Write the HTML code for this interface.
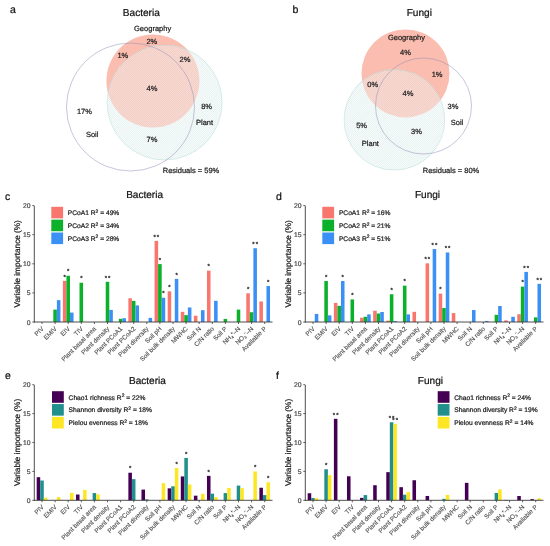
<!DOCTYPE html>
<html lang="en"><head><meta charset="utf-8"><title>Variation partitioning and variable importance</title>
<style>
html,body{margin:0;padding:0;background:#fff;}
body{width:550px;height:546px;overflow:hidden;}
text{stroke-width:0.22px;paint-order:stroke fill;}
text.st{stroke-width:0.1px;}
text.cl{stroke-width:0.12px;}
svg{display:block;text-rendering:geometricPrecision;font-family:"Liberation Sans",Arial,Helvetica,sans-serif;}
</style></head><body>
<svg width="550" height="546" viewBox="0 0 550 546">
<rect width="550" height="546" fill="#ffffff"/>
<g id="venn-a">
<text x="10" y="12.5" font-size="10.5" fill="#111" stroke="#111">a</text>
<text x="141.3" y="15.7" text-anchor="middle" font-size="10.1" fill="#111" stroke="#111">Bacteria</text>
<clipPath id="clip-geo-a"><circle cx="152.9" cy="81.0" r="46.5"/></clipPath>
<circle cx="152.9" cy="81.0" r="46.5" fill="#FBBDB0"/>
<circle cx="164.6" cy="102.5" r="57.5" fill="#FEFFFF"/>
<path d="M120.11 66.07L128.17 58.01M115.49 72.59L134.69 53.39M113.14 76.84L138.94 51.04M111.54 80.34L142.44 49.44M110.36 83.43L145.53 48.26M109.45 86.23L148.33 47.35M108.75 88.84L150.94 46.65M108.21 91.28L153.38 46.11M107.79 93.59L155.69 45.69M107.49 95.79L157.89 45.39M107.28 97.90L160.00 45.18M107.16 99.93L162.03 45.06M107.10 101.88L163.98 45.00M107.11 103.77L165.87 45.01M107.18 105.60L167.70 45.08M107.31 107.38L169.48 45.21M107.48 109.10L171.20 45.38M107.70 110.78L172.88 45.60M107.96 112.42L174.52 45.86M108.27 114.02L176.12 46.17M108.61 115.58L177.68 46.51M108.98 117.10L179.20 46.88M109.40 118.59L180.69 47.30M109.84 120.04L182.14 47.74M110.32 121.47L183.57 48.22M110.82 122.86L184.96 48.72M111.36 124.22L186.32 49.26M111.93 125.56L187.66 49.83M112.52 126.87L188.97 50.42M113.14 128.15L190.25 51.04M113.78 129.40L191.50 51.68M114.45 130.63L192.73 52.35M115.15 131.84L193.94 53.05M115.87 133.02L195.12 53.77M116.61 134.17L196.27 54.51M117.38 135.31L197.41 55.28M118.17 136.42L198.52 56.07M118.98 137.50L199.60 56.88M119.82 138.57L200.67 57.72M120.68 139.61L201.71 58.58M121.56 140.63L202.73 59.46M122.46 141.62L203.72 60.36M123.39 142.60L204.70 61.29M124.33 143.55L205.65 62.23M125.30 144.48L206.58 63.20M126.30 145.39L207.49 64.20M127.31 146.27L208.37 65.21M128.35 147.13L209.23 66.25M129.41 147.97L210.07 67.31M130.49 148.79L210.89 68.39M131.60 149.59L211.69 69.50M132.73 150.36L212.46 70.63M133.88 151.10L213.20 71.78M135.05 151.83L213.93 72.95M136.25 152.53L214.63 74.15M137.48 153.20L215.30 75.38M138.73 153.85L215.95 76.63M140.01 154.48L216.58 77.91M141.31 155.07L217.17 79.21M142.64 155.64L217.74 80.54M144.00 156.18L218.28 81.90M145.39 156.70L218.80 83.29M146.81 157.18L219.28 84.71M148.25 157.63L219.73 86.15M149.74 158.05L220.15 87.64M151.25 158.43L220.53 89.15M152.81 158.78L220.88 90.71M154.40 159.09L221.19 92.30M156.03 159.36L221.46 93.93M157.70 159.58L221.68 95.60M159.42 159.77L221.87 97.32M161.18 159.90L222.00 99.08M163.00 159.98L222.08 100.90M164.88 160.00L222.10 102.78M166.83 159.96L222.06 104.73M168.84 159.84L221.94 106.74M170.93 159.65L221.75 108.83M173.12 159.37L221.47 111.02M175.41 158.98L221.08 113.31M177.82 158.46L220.56 115.72M180.39 157.79L219.89 118.29M183.16 156.92L219.02 121.06M186.19 155.79L217.89 124.09M189.60 154.28L216.38 127.50M193.68 152.11L214.21 131.58M199.44 148.24L210.34 137.34" stroke="#D2E6E3" stroke-width="0.62" fill="none"/>
<g clip-path="url(#clip-geo-a)"><circle cx="164.6" cy="102.5" r="57.5" fill="#FAE1DA"/><path d="M120.11 66.07L128.17 58.01M115.49 72.59L134.69 53.39M113.14 76.84L138.94 51.04M111.54 80.34L142.44 49.44M110.36 83.43L145.53 48.26M109.45 86.23L148.33 47.35M108.75 88.84L150.94 46.65M108.21 91.28L153.38 46.11M107.79 93.59L155.69 45.69M107.49 95.79L157.89 45.39M107.28 97.90L160.00 45.18M107.16 99.93L162.03 45.06M107.10 101.88L163.98 45.00M107.11 103.77L165.87 45.01M107.18 105.60L167.70 45.08M107.31 107.38L169.48 45.21M107.48 109.10L171.20 45.38M107.70 110.78L172.88 45.60M107.96 112.42L174.52 45.86M108.27 114.02L176.12 46.17M108.61 115.58L177.68 46.51M108.98 117.10L179.20 46.88M109.40 118.59L180.69 47.30M109.84 120.04L182.14 47.74M110.32 121.47L183.57 48.22M110.82 122.86L184.96 48.72M111.36 124.22L186.32 49.26M111.93 125.56L187.66 49.83M112.52 126.87L188.97 50.42M113.14 128.15L190.25 51.04M113.78 129.40L191.50 51.68M114.45 130.63L192.73 52.35M115.15 131.84L193.94 53.05M115.87 133.02L195.12 53.77M116.61 134.17L196.27 54.51M117.38 135.31L197.41 55.28M118.17 136.42L198.52 56.07M118.98 137.50L199.60 56.88M119.82 138.57L200.67 57.72M120.68 139.61L201.71 58.58M121.56 140.63L202.73 59.46M122.46 141.62L203.72 60.36M123.39 142.60L204.70 61.29M124.33 143.55L205.65 62.23M125.30 144.48L206.58 63.20M126.30 145.39L207.49 64.20M127.31 146.27L208.37 65.21M128.35 147.13L209.23 66.25M129.41 147.97L210.07 67.31M130.49 148.79L210.89 68.39M131.60 149.59L211.69 69.50M132.73 150.36L212.46 70.63M133.88 151.10L213.20 71.78M135.05 151.83L213.93 72.95M136.25 152.53L214.63 74.15M137.48 153.20L215.30 75.38M138.73 153.85L215.95 76.63M140.01 154.48L216.58 77.91M141.31 155.07L217.17 79.21M142.64 155.64L217.74 80.54M144.00 156.18L218.28 81.90M145.39 156.70L218.80 83.29M146.81 157.18L219.28 84.71M148.25 157.63L219.73 86.15M149.74 158.05L220.15 87.64M151.25 158.43L220.53 89.15M152.81 158.78L220.88 90.71M154.40 159.09L221.19 92.30M156.03 159.36L221.46 93.93M157.70 159.58L221.68 95.60M159.42 159.77L221.87 97.32M161.18 159.90L222.00 99.08M163.00 159.98L222.08 100.90M164.88 160.00L222.10 102.78M166.83 159.96L222.06 104.73M168.84 159.84L221.94 106.74M170.93 159.65L221.75 108.83M173.12 159.37L221.47 111.02M175.41 158.98L221.08 113.31M177.82 158.46L220.56 115.72M180.39 157.79L219.89 118.29M183.16 156.92L219.02 121.06M186.19 155.79L217.89 124.09M189.60 154.28L216.38 127.50M193.68 152.11L214.21 131.58M199.44 148.24L210.34 137.34" stroke="#EBBDB2" stroke-width="0.66" fill="none"/></g>
<circle cx="164.6" cy="102.5" r="57.5" fill="none" stroke="#86C6BE" stroke-opacity="0.36" stroke-width="0.8"/>
<circle cx="130.5" cy="107.0" r="64.0" fill="none" stroke="#908FB6" stroke-opacity="0.85" stroke-width="0.6"/>
<text x="152.6" y="31.1" text-anchor="middle" font-size="7.5" fill="#222" stroke="#222">Geography</text>
<text x="151.8" y="44.0" text-anchor="middle" font-size="7.5" fill="#222" stroke="#222">2%</text>
<text x="122.8" y="57.6" text-anchor="middle" font-size="7.5" fill="#222" stroke="#222">1%</text>
<text x="185.0" y="62.1" text-anchor="middle" font-size="7.5" fill="#222" stroke="#222">2%</text>
<text x="151.9" y="90.7" text-anchor="middle" font-size="7.5" fill="#222" stroke="#222">4%</text>
<text x="84.4" y="113.9" text-anchor="middle" font-size="7.5" fill="#222" stroke="#222">17%</text>
<text x="206.6" y="109.0" text-anchor="middle" font-size="7.5" fill="#222" stroke="#222">8%</text>
<text x="204.6" y="124.7" text-anchor="middle" font-size="7.5" fill="#222" stroke="#222">Plant</text>
<text x="92.2" y="137.3" text-anchor="middle" font-size="7.5" fill="#222" stroke="#222">Soil</text>
<text x="151.9" y="141.6" text-anchor="middle" font-size="7.5" fill="#222" stroke="#222">7%</text>
<text x="191.0" y="173.4" text-anchor="middle" font-size="7.5" fill="#222" stroke="#222">Residuals = 59%</text>
</g>
<g id="venn-b">
<text x="292.6" y="12.5" font-size="10.5" fill="#111" stroke="#111">b</text>
<text x="419.3" y="15.7" text-anchor="middle" font-size="10.1" fill="#111" stroke="#111">Fungi</text>
<clipPath id="clip-geo-b"><circle cx="405.5" cy="73.4" r="44.0"/></clipPath>
<circle cx="405.5" cy="73.4" r="44.0" fill="#FBBDB0"/>
<circle cx="394.4" cy="119.8" r="50.3" fill="#FEFFFF"/>
<path d="M355.27 88.20L362.80 80.67M351.01 94.35L368.95 76.41M348.89 98.37L372.97 74.29M347.47 101.69L376.29 72.87M346.45 104.62L379.22 71.85M345.68 107.28L381.88 71.08M345.11 109.75L384.35 70.51M344.70 112.07L386.67 70.10M344.41 114.26L388.86 69.81M344.22 116.35L390.95 69.62M344.12 118.34L392.94 69.52M344.10 120.26L394.86 69.50M344.15 122.11L396.71 69.55M344.27 123.90L398.50 69.67M344.44 125.63L400.23 69.84M344.66 127.30L401.90 70.06M344.94 128.93L403.53 70.34M345.25 130.51L405.11 70.65M345.61 132.05L406.65 71.01M346.02 133.55L408.15 71.42M346.45 135.01L409.61 71.85M346.93 136.43L411.03 72.33M347.44 137.82L412.42 72.84M347.98 139.18L413.78 73.38M348.56 140.51L415.11 73.96M349.17 141.80L416.40 74.57M349.80 143.06L417.66 75.20M350.47 144.30L418.90 75.87M351.16 145.50L420.10 76.56M351.88 146.68L421.28 77.28M352.63 147.83L422.43 78.03M353.41 148.95L423.55 78.81M354.21 150.05L424.65 79.61M355.04 151.12L425.72 80.44M355.90 152.17L426.77 81.30M356.78 153.19L427.79 82.18M357.68 154.18L428.78 83.08M358.62 155.15L429.75 84.02M359.57 156.09L430.69 84.97M360.55 157.01L431.61 85.95M361.56 157.90L432.50 86.96M362.60 158.77L433.37 88.00M363.66 159.61L434.21 89.06M364.74 160.42L435.02 90.14M365.85 161.21L435.81 91.25M366.99 161.98L436.58 92.39M368.15 162.71L437.31 93.55M369.35 163.42L438.02 94.75M370.57 164.10L438.70 95.97M371.82 164.75L439.35 97.22M373.10 165.37L439.97 98.50M374.41 165.96L440.56 99.81M375.75 166.51L441.11 101.15M377.12 167.04L441.64 102.52M378.53 167.53L442.13 103.93M379.98 167.99L442.59 105.38M381.46 168.41L443.01 106.86M382.98 168.79L443.39 108.38M384.54 169.12L443.72 109.94M386.15 169.42L444.02 111.55M387.80 169.67L444.27 113.20M389.50 169.86L444.46 114.90M391.26 170.00L444.60 116.66M393.08 170.08L444.68 118.48M394.97 170.10L444.70 120.37M396.93 170.04L444.64 122.33M398.97 169.89L444.49 124.37M401.12 169.65L444.25 126.52M403.37 169.29L443.89 128.77M405.77 168.80L443.40 131.17M408.33 168.13L442.73 133.73M411.13 167.24L441.84 136.53M414.25 166.02L440.62 139.65M417.88 164.28L438.88 143.28M422.64 161.42L436.02 148.04" stroke="#D2E6E3" stroke-width="0.62" fill="none"/>
<g clip-path="url(#clip-geo-b)"><circle cx="394.4" cy="119.8" r="50.3" fill="#FAE1DA"/><path d="M355.27 88.20L362.80 80.67M351.01 94.35L368.95 76.41M348.89 98.37L372.97 74.29M347.47 101.69L376.29 72.87M346.45 104.62L379.22 71.85M345.68 107.28L381.88 71.08M345.11 109.75L384.35 70.51M344.70 112.07L386.67 70.10M344.41 114.26L388.86 69.81M344.22 116.35L390.95 69.62M344.12 118.34L392.94 69.52M344.10 120.26L394.86 69.50M344.15 122.11L396.71 69.55M344.27 123.90L398.50 69.67M344.44 125.63L400.23 69.84M344.66 127.30L401.90 70.06M344.94 128.93L403.53 70.34M345.25 130.51L405.11 70.65M345.61 132.05L406.65 71.01M346.02 133.55L408.15 71.42M346.45 135.01L409.61 71.85M346.93 136.43L411.03 72.33M347.44 137.82L412.42 72.84M347.98 139.18L413.78 73.38M348.56 140.51L415.11 73.96M349.17 141.80L416.40 74.57M349.80 143.06L417.66 75.20M350.47 144.30L418.90 75.87M351.16 145.50L420.10 76.56M351.88 146.68L421.28 77.28M352.63 147.83L422.43 78.03M353.41 148.95L423.55 78.81M354.21 150.05L424.65 79.61M355.04 151.12L425.72 80.44M355.90 152.17L426.77 81.30M356.78 153.19L427.79 82.18M357.68 154.18L428.78 83.08M358.62 155.15L429.75 84.02M359.57 156.09L430.69 84.97M360.55 157.01L431.61 85.95M361.56 157.90L432.50 86.96M362.60 158.77L433.37 88.00M363.66 159.61L434.21 89.06M364.74 160.42L435.02 90.14M365.85 161.21L435.81 91.25M366.99 161.98L436.58 92.39M368.15 162.71L437.31 93.55M369.35 163.42L438.02 94.75M370.57 164.10L438.70 95.97M371.82 164.75L439.35 97.22M373.10 165.37L439.97 98.50M374.41 165.96L440.56 99.81M375.75 166.51L441.11 101.15M377.12 167.04L441.64 102.52M378.53 167.53L442.13 103.93M379.98 167.99L442.59 105.38M381.46 168.41L443.01 106.86M382.98 168.79L443.39 108.38M384.54 169.12L443.72 109.94M386.15 169.42L444.02 111.55M387.80 169.67L444.27 113.20M389.50 169.86L444.46 114.90M391.26 170.00L444.60 116.66M393.08 170.08L444.68 118.48M394.97 170.10L444.70 120.37M396.93 170.04L444.64 122.33M398.97 169.89L444.49 124.37M401.12 169.65L444.25 126.52M403.37 169.29L443.89 128.77M405.77 168.80L443.40 131.17M408.33 168.13L442.73 133.73M411.13 167.24L441.84 136.53M414.25 166.02L440.62 139.65M417.88 164.28L438.88 143.28M422.64 161.42L436.02 148.04" stroke="#EBBDB2" stroke-width="0.66" fill="none"/></g>
<circle cx="394.4" cy="119.8" r="50.3" fill="none" stroke="#86C6BE" stroke-opacity="0.36" stroke-width="0.8"/>
<circle cx="423.5" cy="106.0" r="48.0" fill="none" stroke="#908FB6" stroke-opacity="0.85" stroke-width="0.6"/>
<text x="406.5" y="40.2" text-anchor="middle" font-size="7.5" fill="#222" stroke="#222">Geography</text>
<text x="405.4" y="54.8" text-anchor="middle" font-size="7.5" fill="#222" stroke="#222">4%</text>
<text x="372.7" y="86.6" text-anchor="middle" font-size="7.5" fill="#222" stroke="#222">0%</text>
<text x="407.9" y="95.7" text-anchor="middle" font-size="7.5" fill="#222" stroke="#222">4%</text>
<text x="437.1" y="77.1" text-anchor="middle" font-size="7.5" fill="#222" stroke="#222">1%</text>
<text x="453.0" y="109.0" text-anchor="middle" font-size="7.5" fill="#222" stroke="#222">3%</text>
<text x="457.0" y="125.1" text-anchor="middle" font-size="7.5" fill="#222" stroke="#222">Soil</text>
<text x="416.5" y="134.2" text-anchor="middle" font-size="7.5" fill="#222" stroke="#222">3%</text>
<text x="361.6" y="127.6" text-anchor="middle" font-size="7.5" fill="#222" stroke="#222">5%</text>
<text x="370.4" y="145.5" text-anchor="middle" font-size="7.5" fill="#222" stroke="#222">Plant</text>
<text x="451.0" y="173.3" text-anchor="middle" font-size="7.5" fill="#222" stroke="#222">Residuals = 80%</text>
</g>
<g id="panel-c">
<text x="4.9" y="199.9" font-size="10.5" fill="#111" stroke="#111">c</text>
<rect x="53.33" y="309.62" width="3.55" height="12.38" fill="#0BB02B"/>
<rect x="56.88" y="300.13" width="3.55" height="21.87" fill="#3A90F4"/>
<rect x="62.88" y="280.87" width="3.55" height="41.13" fill="#F9766E"/>
<rect x="66.42" y="275.75" width="3.55" height="46.25" fill="#0BB02B"/>
<rect x="69.98" y="312.59" width="3.55" height="9.41" fill="#3A90F4"/>
<rect x="79.52" y="282.73" width="3.55" height="39.27" fill="#0BB02B"/>
<rect x="105.72" y="281.80" width="3.55" height="40.20" fill="#0BB02B"/>
<rect x="109.28" y="309.91" width="3.55" height="12.09" fill="#3A90F4"/>
<rect x="118.82" y="318.81" width="3.55" height="3.19" fill="#0BB02B"/>
<rect x="122.38" y="318.23" width="3.55" height="3.77" fill="#3A90F4"/>
<rect x="128.38" y="298.27" width="3.55" height="23.73" fill="#F9766E"/>
<rect x="131.92" y="300.89" width="3.55" height="21.11" fill="#0BB02B"/>
<rect x="135.47" y="305.43" width="3.55" height="16.57" fill="#3A90F4"/>
<rect x="148.58" y="317.88" width="3.55" height="4.12" fill="#3A90F4"/>
<rect x="154.57" y="240.94" width="3.55" height="81.06" fill="#F9766E"/>
<rect x="158.12" y="264.11" width="3.55" height="57.89" fill="#0BB02B"/>
<rect x="161.67" y="297.75" width="3.55" height="24.25" fill="#3A90F4"/>
<rect x="167.68" y="291.34" width="3.55" height="30.66" fill="#F9766E"/>
<rect x="174.78" y="278.89" width="3.55" height="43.11" fill="#3A90F4"/>
<rect x="180.78" y="311.83" width="3.55" height="10.17" fill="#F9766E"/>
<rect x="184.32" y="315.15" width="3.55" height="6.85" fill="#0BB02B"/>
<rect x="187.88" y="307.47" width="3.55" height="14.53" fill="#3A90F4"/>
<rect x="193.88" y="315.73" width="3.55" height="6.27" fill="#F9766E"/>
<rect x="200.97" y="310.20" width="3.55" height="11.80" fill="#3A90F4"/>
<rect x="206.97" y="270.62" width="3.55" height="51.38" fill="#F9766E"/>
<rect x="214.07" y="300.83" width="3.55" height="21.17" fill="#3A90F4"/>
<rect x="223.62" y="318.93" width="3.55" height="3.07" fill="#0BB02B"/>
<rect x="236.72" y="309.62" width="3.55" height="12.38" fill="#0BB02B"/>
<rect x="246.28" y="293.32" width="3.55" height="28.68" fill="#F9766E"/>
<rect x="249.82" y="312.24" width="3.55" height="9.76" fill="#0BB02B"/>
<rect x="253.38" y="248.22" width="3.55" height="73.78" fill="#3A90F4"/>
<rect x="259.38" y="301.47" width="3.55" height="20.53" fill="#F9766E"/>
<rect x="266.47" y="286.05" width="3.55" height="35.95" fill="#3A90F4"/>
<text x="64.65" y="278.57" text-anchor="middle" font-size="6.0" font-weight="bold" class="st" fill="#111" stroke="#111">*</text>
<text x="68.20" y="273.45" text-anchor="middle" font-size="6.0" font-weight="bold" class="st" fill="#111" stroke="#111">*</text>
<text x="81.30" y="280.43" text-anchor="middle" font-size="6.0" font-weight="bold" class="st" fill="#111" stroke="#111">*</text>
<text x="108.02" y="279.50" text-anchor="middle" font-size="6.0" font-weight="bold" letter-spacing="1.05" class="st" fill="#111" stroke="#111">**</text>
<text x="156.87" y="238.64" text-anchor="middle" font-size="6.0" font-weight="bold" letter-spacing="1.05" class="st" fill="#111" stroke="#111">**</text>
<text x="159.90" y="261.81" text-anchor="middle" font-size="6.0" font-weight="bold" class="st" fill="#111" stroke="#111">*</text>
<text x="163.45" y="295.45" text-anchor="middle" font-size="6.0" font-weight="bold" class="st" fill="#111" stroke="#111">*</text>
<text x="169.45" y="289.04" text-anchor="middle" font-size="6.0" font-weight="bold" class="st" fill="#111" stroke="#111">*</text>
<text x="176.55" y="276.59" text-anchor="middle" font-size="6.0" font-weight="bold" class="st" fill="#111" stroke="#111">*</text>
<text x="208.75" y="268.32" text-anchor="middle" font-size="6.0" font-weight="bold" class="st" fill="#111" stroke="#111">*</text>
<text x="248.05" y="291.02" text-anchor="middle" font-size="6.0" font-weight="bold" class="st" fill="#111" stroke="#111">*</text>
<text x="255.67" y="245.92" text-anchor="middle" font-size="6.0" font-weight="bold" letter-spacing="1.05" class="st" fill="#111" stroke="#111">**</text>
<text x="268.25" y="283.75" text-anchor="middle" font-size="6.0" font-weight="bold" class="st" fill="#111" stroke="#111">*</text>
<path d="M34.30 205.90V322.45" stroke="#3a3a3a" stroke-width="0.9" fill="none"/>
<path d="M33.85 322.00H272.50" stroke="#3a3a3a" stroke-width="0.9" fill="none"/>
<path d="M32.30 322.00H34.30" stroke="#3a3a3a" stroke-width="0.8"/>
<text x="30.50" y="324.55" text-anchor="end" font-size="6.8" fill="#4d4d4d" stroke="#4d4d4d">0</text>
<path d="M32.30 292.90H34.30" stroke="#3a3a3a" stroke-width="0.8"/>
<text x="30.50" y="295.45" text-anchor="end" font-size="6.8" fill="#4d4d4d" stroke="#4d4d4d">5</text>
<path d="M32.30 263.80H34.30" stroke="#3a3a3a" stroke-width="0.8"/>
<text x="30.50" y="266.35" text-anchor="end" font-size="6.8" fill="#4d4d4d" stroke="#4d4d4d">10</text>
<path d="M32.30 234.70H34.30" stroke="#3a3a3a" stroke-width="0.8"/>
<text x="30.50" y="237.25" text-anchor="end" font-size="6.8" fill="#4d4d4d" stroke="#4d4d4d">15</text>
<path d="M32.30 205.60H34.30" stroke="#3a3a3a" stroke-width="0.8"/>
<text x="30.50" y="208.15" text-anchor="end" font-size="6.8" fill="#4d4d4d" stroke="#4d4d4d">20</text>
<path d="M42.00 322.00V324.00" stroke="#3a3a3a" stroke-width="0.8"/>
<text transform="translate(44.20,329.20) rotate(-45)" text-anchor="end" font-size="6.4" class="cl" fill="#4d4d4d" stroke="#4d4d4d">PIV</text>
<path d="M55.10 322.00V324.00" stroke="#3a3a3a" stroke-width="0.8"/>
<text transform="translate(57.30,329.20) rotate(-45)" text-anchor="end" font-size="6.4" class="cl" fill="#4d4d4d" stroke="#4d4d4d">EMIV</text>
<path d="M68.20 322.00V324.00" stroke="#3a3a3a" stroke-width="0.8"/>
<text transform="translate(70.40,329.20) rotate(-45)" text-anchor="end" font-size="6.4" class="cl" fill="#4d4d4d" stroke="#4d4d4d">EIV</text>
<path d="M81.30 322.00V324.00" stroke="#3a3a3a" stroke-width="0.8"/>
<text transform="translate(83.50,329.20) rotate(-45)" text-anchor="end" font-size="6.4" class="cl" fill="#4d4d4d" stroke="#4d4d4d">TIV</text>
<path d="M94.40 322.00V324.00" stroke="#3a3a3a" stroke-width="0.8"/>
<text transform="translate(96.60,329.20) rotate(-45)" text-anchor="end" font-size="6.4" class="cl" fill="#4d4d4d" stroke="#4d4d4d">Plant basal area</text>
<path d="M107.50 322.00V324.00" stroke="#3a3a3a" stroke-width="0.8"/>
<text transform="translate(109.70,329.20) rotate(-45)" text-anchor="end" font-size="6.4" class="cl" fill="#4d4d4d" stroke="#4d4d4d">Plant density</text>
<path d="M120.60 322.00V324.00" stroke="#3a3a3a" stroke-width="0.8"/>
<text transform="translate(122.80,329.20) rotate(-45)" text-anchor="end" font-size="6.4" class="cl" fill="#4d4d4d" stroke="#4d4d4d">Plant PCoA1</text>
<path d="M133.70 322.00V324.00" stroke="#3a3a3a" stroke-width="0.8"/>
<text transform="translate(135.90,329.20) rotate(-45)" text-anchor="end" font-size="6.4" class="cl" fill="#4d4d4d" stroke="#4d4d4d">Plant PCoA2</text>
<path d="M146.80 322.00V324.00" stroke="#3a3a3a" stroke-width="0.8"/>
<text transform="translate(149.00,329.20) rotate(-45)" text-anchor="end" font-size="6.4" class="cl" fill="#4d4d4d" stroke="#4d4d4d">Plant diversity</text>
<path d="M159.90 322.00V324.00" stroke="#3a3a3a" stroke-width="0.8"/>
<text transform="translate(162.10,329.20) rotate(-45)" text-anchor="end" font-size="6.4" class="cl" fill="#4d4d4d" stroke="#4d4d4d">Soil pH</text>
<path d="M173.00 322.00V324.00" stroke="#3a3a3a" stroke-width="0.8"/>
<text transform="translate(175.20,329.20) rotate(-45)" text-anchor="end" font-size="6.4" class="cl" fill="#4d4d4d" stroke="#4d4d4d">Soil bulk density</text>
<path d="M186.10 322.00V324.00" stroke="#3a3a3a" stroke-width="0.8"/>
<text transform="translate(188.30,329.20) rotate(-45)" text-anchor="end" font-size="6.4" class="cl" fill="#4d4d4d" stroke="#4d4d4d">MWHC</text>
<path d="M199.20 322.00V324.00" stroke="#3a3a3a" stroke-width="0.8"/>
<text transform="translate(201.40,329.20) rotate(-45)" text-anchor="end" font-size="6.4" class="cl" fill="#4d4d4d" stroke="#4d4d4d">Soil N</text>
<path d="M212.30 322.00V324.00" stroke="#3a3a3a" stroke-width="0.8"/>
<text transform="translate(214.50,329.20) rotate(-45)" text-anchor="end" font-size="6.4" class="cl" fill="#4d4d4d" stroke="#4d4d4d">C/N ratio</text>
<path d="M225.40 322.00V324.00" stroke="#3a3a3a" stroke-width="0.8"/>
<text transform="translate(227.60,329.20) rotate(-45)" text-anchor="end" font-size="6.4" class="cl" fill="#4d4d4d" stroke="#4d4d4d">Soil P</text>
<path d="M238.50 322.00V324.00" stroke="#3a3a3a" stroke-width="0.8"/>
<text transform="translate(240.70,329.20) rotate(-45)" text-anchor="end" font-size="6.4" class="cl" fill="#4d4d4d" stroke="#4d4d4d">NH<tspan font-size="3.97" dy="1.3">4</tspan><tspan font-size="3.97" dy="-3.6">+</tspan><tspan dy="2.3">–N</tspan></text>
<path d="M251.60 322.00V324.00" stroke="#3a3a3a" stroke-width="0.8"/>
<text transform="translate(253.80,329.20) rotate(-45)" text-anchor="end" font-size="6.4" class="cl" fill="#4d4d4d" stroke="#4d4d4d">NO<tspan font-size="3.97" dy="1.3">3</tspan><tspan font-size="3.97" dy="-3.6">−</tspan><tspan dy="2.3">–N</tspan></text>
<path d="M264.70 322.00V324.00" stroke="#3a3a3a" stroke-width="0.8"/>
<text transform="translate(266.90,329.20) rotate(-45)" text-anchor="end" font-size="6.4" class="cl" fill="#4d4d4d" stroke="#4d4d4d">Available P</text>
<text transform="translate(19.80,263.80) rotate(-90)" text-anchor="middle" font-size="8.2" fill="#1a1a1a" stroke="#1a1a1a">Variable importance (%)</text>
<text x="144.60" y="198.40" text-anchor="middle" font-size="10.05" fill="#111" stroke="#111">Bacteria</text>
<rect x="51.30" y="206.80" width="11.8" height="11.6" fill="#F9766E"/>
<text x="67.80" y="215.20" font-size="6.68" fill="#1a1a1a" stroke="#1a1a1a">PCoA1 R<tspan font-size="4.9" dy="-2.5">2</tspan><tspan dy="2.5"> = 49%</tspan></text>
<rect x="51.30" y="219.65" width="11.8" height="11.6" fill="#0BB02B"/>
<text x="67.80" y="228.05" font-size="6.68" fill="#1a1a1a" stroke="#1a1a1a">PCoA2 R<tspan font-size="4.9" dy="-2.5">2</tspan><tspan dy="2.5"> = 34%</tspan></text>
<rect x="51.30" y="232.50" width="11.8" height="11.6" fill="#3A90F4"/>
<text x="67.80" y="240.90" font-size="6.68" fill="#1a1a1a" stroke="#1a1a1a">PCoA3 R<tspan font-size="4.9" dy="-2.5">2</tspan><tspan dy="2.5"> = 28%</tspan></text>
</g>
<g id="panel-d">
<text x="275.9" y="199.9" font-size="10.5" fill="#111" stroke="#111">d</text>
<rect x="314.77" y="313.93" width="3.55" height="8.07" fill="#3A90F4"/>
<rect x="324.33" y="280.98" width="3.55" height="41.02" fill="#0BB02B"/>
<rect x="327.88" y="315.38" width="3.55" height="6.62" fill="#3A90F4"/>
<rect x="333.88" y="302.93" width="3.55" height="19.07" fill="#F9766E"/>
<rect x="337.43" y="305.84" width="3.55" height="16.16" fill="#0BB02B"/>
<rect x="340.97" y="280.98" width="3.55" height="41.02" fill="#3A90F4"/>
<rect x="350.53" y="299.43" width="3.55" height="22.57" fill="#0BB02B"/>
<rect x="360.07" y="317.71" width="3.55" height="4.29" fill="#F9766E"/>
<rect x="363.62" y="316.78" width="3.55" height="5.22" fill="#0BB02B"/>
<rect x="367.17" y="314.39" width="3.55" height="7.61" fill="#3A90F4"/>
<rect x="373.18" y="310.72" width="3.55" height="11.28" fill="#F9766E"/>
<rect x="376.73" y="313.52" width="3.55" height="8.48" fill="#0BB02B"/>
<rect x="380.27" y="312.01" width="3.55" height="9.99" fill="#3A90F4"/>
<rect x="386.28" y="320.68" width="3.55" height="1.32" fill="#F9766E"/>
<rect x="389.83" y="294.25" width="3.55" height="27.75" fill="#0BB02B"/>
<rect x="393.38" y="321.08" width="3.55" height="0.92" fill="#3A90F4"/>
<rect x="402.93" y="285.64" width="3.55" height="36.36" fill="#0BB02B"/>
<rect x="406.47" y="314.39" width="3.55" height="7.61" fill="#3A90F4"/>
<rect x="412.48" y="311.83" width="3.55" height="10.17" fill="#F9766E"/>
<rect x="425.57" y="263.35" width="3.55" height="58.65" fill="#F9766E"/>
<rect x="432.67" y="249.03" width="3.55" height="72.97" fill="#3A90F4"/>
<rect x="438.68" y="293.61" width="3.55" height="28.39" fill="#F9766E"/>
<rect x="442.23" y="307.99" width="3.55" height="14.01" fill="#0BB02B"/>
<rect x="445.77" y="252.47" width="3.55" height="69.53" fill="#3A90F4"/>
<rect x="451.78" y="313.11" width="3.55" height="8.89" fill="#F9766E"/>
<rect x="471.97" y="310.03" width="3.55" height="11.97" fill="#3A90F4"/>
<rect x="485.07" y="320.97" width="3.55" height="1.03" fill="#3A90F4"/>
<rect x="494.62" y="314.80" width="3.55" height="7.20" fill="#0BB02B"/>
<rect x="498.17" y="306.01" width="3.55" height="15.99" fill="#3A90F4"/>
<rect x="504.18" y="320.39" width="3.55" height="1.61" fill="#F9766E"/>
<rect x="511.27" y="316.78" width="3.55" height="5.22" fill="#3A90F4"/>
<rect x="517.27" y="314.22" width="3.55" height="7.78" fill="#F9766E"/>
<rect x="520.83" y="286.63" width="3.55" height="35.37" fill="#0BB02B"/>
<rect x="524.38" y="271.91" width="3.55" height="50.09" fill="#3A90F4"/>
<rect x="533.93" y="317.36" width="3.55" height="4.64" fill="#0BB02B"/>
<rect x="537.48" y="283.84" width="3.55" height="38.16" fill="#3A90F4"/>
<text x="326.10" y="278.68" text-anchor="middle" font-size="6.0" font-weight="bold" class="st" fill="#111" stroke="#111">*</text>
<text x="342.75" y="278.68" text-anchor="middle" font-size="6.0" font-weight="bold" class="st" fill="#111" stroke="#111">*</text>
<text x="352.30" y="297.13" text-anchor="middle" font-size="6.0" font-weight="bold" class="st" fill="#111" stroke="#111">*</text>
<text x="391.60" y="291.95" text-anchor="middle" font-size="6.0" font-weight="bold" class="st" fill="#111" stroke="#111">*</text>
<text x="404.70" y="283.34" text-anchor="middle" font-size="6.0" font-weight="bold" class="st" fill="#111" stroke="#111">*</text>
<text x="427.87" y="261.05" text-anchor="middle" font-size="6.0" font-weight="bold" letter-spacing="1.05" class="st" fill="#111" stroke="#111">**</text>
<text x="434.97" y="246.73" text-anchor="middle" font-size="6.0" font-weight="bold" letter-spacing="1.05" class="st" fill="#111" stroke="#111">**</text>
<text x="440.45" y="291.31" text-anchor="middle" font-size="6.0" font-weight="bold" class="st" fill="#111" stroke="#111">*</text>
<text x="448.07" y="250.17" text-anchor="middle" font-size="6.0" font-weight="bold" letter-spacing="1.05" class="st" fill="#111" stroke="#111">**</text>
<text x="522.60" y="284.33" text-anchor="middle" font-size="6.0" font-weight="bold" class="st" fill="#111" stroke="#111">*</text>
<text x="526.67" y="269.61" text-anchor="middle" font-size="6.0" font-weight="bold" letter-spacing="1.05" class="st" fill="#111" stroke="#111">**</text>
<text x="539.77" y="281.54" text-anchor="middle" font-size="6.0" font-weight="bold" letter-spacing="1.05" class="st" fill="#111" stroke="#111">**</text>
<path d="M305.30 205.90V322.45" stroke="#3a3a3a" stroke-width="0.9" fill="none"/>
<path d="M304.85 322.00H543.50" stroke="#3a3a3a" stroke-width="0.9" fill="none"/>
<path d="M303.30 322.00H305.30" stroke="#3a3a3a" stroke-width="0.8"/>
<text x="301.50" y="324.55" text-anchor="end" font-size="6.8" fill="#4d4d4d" stroke="#4d4d4d">0</text>
<path d="M303.30 292.90H305.30" stroke="#3a3a3a" stroke-width="0.8"/>
<text x="301.50" y="295.45" text-anchor="end" font-size="6.8" fill="#4d4d4d" stroke="#4d4d4d">5</text>
<path d="M303.30 263.80H305.30" stroke="#3a3a3a" stroke-width="0.8"/>
<text x="301.50" y="266.35" text-anchor="end" font-size="6.8" fill="#4d4d4d" stroke="#4d4d4d">10</text>
<path d="M303.30 234.70H305.30" stroke="#3a3a3a" stroke-width="0.8"/>
<text x="301.50" y="237.25" text-anchor="end" font-size="6.8" fill="#4d4d4d" stroke="#4d4d4d">15</text>
<path d="M303.30 205.60H305.30" stroke="#3a3a3a" stroke-width="0.8"/>
<text x="301.50" y="208.15" text-anchor="end" font-size="6.8" fill="#4d4d4d" stroke="#4d4d4d">20</text>
<path d="M313.00 322.00V324.00" stroke="#3a3a3a" stroke-width="0.8"/>
<text transform="translate(315.20,329.20) rotate(-45)" text-anchor="end" font-size="6.4" class="cl" fill="#4d4d4d" stroke="#4d4d4d">PIV</text>
<path d="M326.10 322.00V324.00" stroke="#3a3a3a" stroke-width="0.8"/>
<text transform="translate(328.30,329.20) rotate(-45)" text-anchor="end" font-size="6.4" class="cl" fill="#4d4d4d" stroke="#4d4d4d">EMIV</text>
<path d="M339.20 322.00V324.00" stroke="#3a3a3a" stroke-width="0.8"/>
<text transform="translate(341.40,329.20) rotate(-45)" text-anchor="end" font-size="6.4" class="cl" fill="#4d4d4d" stroke="#4d4d4d">EIV</text>
<path d="M352.30 322.00V324.00" stroke="#3a3a3a" stroke-width="0.8"/>
<text transform="translate(354.50,329.20) rotate(-45)" text-anchor="end" font-size="6.4" class="cl" fill="#4d4d4d" stroke="#4d4d4d">TIV</text>
<path d="M365.40 322.00V324.00" stroke="#3a3a3a" stroke-width="0.8"/>
<text transform="translate(367.60,329.20) rotate(-45)" text-anchor="end" font-size="6.4" class="cl" fill="#4d4d4d" stroke="#4d4d4d">Plant basal area</text>
<path d="M378.50 322.00V324.00" stroke="#3a3a3a" stroke-width="0.8"/>
<text transform="translate(380.70,329.20) rotate(-45)" text-anchor="end" font-size="6.4" class="cl" fill="#4d4d4d" stroke="#4d4d4d">Plant density</text>
<path d="M391.60 322.00V324.00" stroke="#3a3a3a" stroke-width="0.8"/>
<text transform="translate(393.80,329.20) rotate(-45)" text-anchor="end" font-size="6.4" class="cl" fill="#4d4d4d" stroke="#4d4d4d">Plant PCoA1</text>
<path d="M404.70 322.00V324.00" stroke="#3a3a3a" stroke-width="0.8"/>
<text transform="translate(406.90,329.20) rotate(-45)" text-anchor="end" font-size="6.4" class="cl" fill="#4d4d4d" stroke="#4d4d4d">Plant PCoA2</text>
<path d="M417.80 322.00V324.00" stroke="#3a3a3a" stroke-width="0.8"/>
<text transform="translate(420.00,329.20) rotate(-45)" text-anchor="end" font-size="6.4" class="cl" fill="#4d4d4d" stroke="#4d4d4d">Plant diversity</text>
<path d="M430.90 322.00V324.00" stroke="#3a3a3a" stroke-width="0.8"/>
<text transform="translate(433.10,329.20) rotate(-45)" text-anchor="end" font-size="6.4" class="cl" fill="#4d4d4d" stroke="#4d4d4d">Soil pH</text>
<path d="M444.00 322.00V324.00" stroke="#3a3a3a" stroke-width="0.8"/>
<text transform="translate(446.20,329.20) rotate(-45)" text-anchor="end" font-size="6.4" class="cl" fill="#4d4d4d" stroke="#4d4d4d">Soil bulk density</text>
<path d="M457.10 322.00V324.00" stroke="#3a3a3a" stroke-width="0.8"/>
<text transform="translate(459.30,329.20) rotate(-45)" text-anchor="end" font-size="6.4" class="cl" fill="#4d4d4d" stroke="#4d4d4d">MWHC</text>
<path d="M470.20 322.00V324.00" stroke="#3a3a3a" stroke-width="0.8"/>
<text transform="translate(472.40,329.20) rotate(-45)" text-anchor="end" font-size="6.4" class="cl" fill="#4d4d4d" stroke="#4d4d4d">Soil N</text>
<path d="M483.30 322.00V324.00" stroke="#3a3a3a" stroke-width="0.8"/>
<text transform="translate(485.50,329.20) rotate(-45)" text-anchor="end" font-size="6.4" class="cl" fill="#4d4d4d" stroke="#4d4d4d">C/N ratio</text>
<path d="M496.40 322.00V324.00" stroke="#3a3a3a" stroke-width="0.8"/>
<text transform="translate(498.60,329.20) rotate(-45)" text-anchor="end" font-size="6.4" class="cl" fill="#4d4d4d" stroke="#4d4d4d">Soil P</text>
<path d="M509.50 322.00V324.00" stroke="#3a3a3a" stroke-width="0.8"/>
<text transform="translate(511.70,329.20) rotate(-45)" text-anchor="end" font-size="6.4" class="cl" fill="#4d4d4d" stroke="#4d4d4d">NH<tspan font-size="3.97" dy="1.3">4</tspan><tspan font-size="3.97" dy="-3.6">+</tspan><tspan dy="2.3">–N</tspan></text>
<path d="M522.60 322.00V324.00" stroke="#3a3a3a" stroke-width="0.8"/>
<text transform="translate(524.80,329.20) rotate(-45)" text-anchor="end" font-size="6.4" class="cl" fill="#4d4d4d" stroke="#4d4d4d">NO<tspan font-size="3.97" dy="1.3">3</tspan><tspan font-size="3.97" dy="-3.6">−</tspan><tspan dy="2.3">–N</tspan></text>
<path d="M535.70 322.00V324.00" stroke="#3a3a3a" stroke-width="0.8"/>
<text transform="translate(537.90,329.20) rotate(-45)" text-anchor="end" font-size="6.4" class="cl" fill="#4d4d4d" stroke="#4d4d4d">Available P</text>
<text transform="translate(290.80,263.80) rotate(-90)" text-anchor="middle" font-size="8.2" fill="#1a1a1a" stroke="#1a1a1a">Variable importance (%)</text>
<text x="427.50" y="198.30" text-anchor="middle" font-size="10.05" fill="#111" stroke="#111">Fungi</text>
<rect x="322.30" y="206.80" width="11.8" height="11.6" fill="#F9766E"/>
<text x="338.90" y="215.20" font-size="6.68" fill="#1a1a1a" stroke="#1a1a1a">PCoA1 R<tspan font-size="4.9" dy="-2.5">2</tspan><tspan dy="2.5"> = 16%</tspan></text>
<rect x="322.30" y="219.65" width="11.8" height="11.6" fill="#0BB02B"/>
<text x="338.90" y="228.05" font-size="6.68" fill="#1a1a1a" stroke="#1a1a1a">PCoA2 R<tspan font-size="4.9" dy="-2.5">2</tspan><tspan dy="2.5"> = 21%</tspan></text>
<rect x="322.30" y="232.50" width="11.8" height="11.6" fill="#3A90F4"/>
<text x="338.90" y="240.90" font-size="6.68" fill="#1a1a1a" stroke="#1a1a1a">PCoA3 R<tspan font-size="4.9" dy="-2.5">2</tspan><tspan dy="2.5"> = 51%</tspan></text>
</g>
<g id="panel-e">
<text x="4.9" y="379.0" font-size="10.5" fill="#111" stroke="#111">e</text>
<rect x="36.67" y="477.18" width="3.55" height="23.12" fill="#440154"/>
<rect x="40.23" y="480.53" width="3.55" height="19.77" fill="#21908C"/>
<rect x="43.77" y="497.64" width="3.55" height="2.66" fill="#FDE725"/>
<rect x="56.88" y="497.06" width="3.55" height="3.24" fill="#FDE725"/>
<rect x="69.98" y="492.73" width="3.55" height="7.57" fill="#FDE725"/>
<rect x="75.97" y="494.52" width="3.55" height="5.78" fill="#440154"/>
<rect x="83.08" y="489.95" width="3.55" height="10.35" fill="#FDE725"/>
<rect x="92.62" y="493.07" width="3.55" height="7.23" fill="#21908C"/>
<rect x="96.18" y="494.35" width="3.55" height="5.95" fill="#FDE725"/>
<rect x="128.38" y="472.73" width="3.55" height="27.57" fill="#440154"/>
<rect x="131.92" y="479.15" width="3.55" height="21.15" fill="#21908C"/>
<rect x="141.48" y="489.61" width="3.55" height="10.69" fill="#440154"/>
<rect x="145.03" y="499.43" width="3.55" height="0.87" fill="#21908C"/>
<rect x="161.67" y="483.19" width="3.55" height="17.11" fill="#FDE725"/>
<rect x="167.68" y="488.34" width="3.55" height="11.96" fill="#440154"/>
<rect x="171.22" y="486.31" width="3.55" height="13.99" fill="#21908C"/>
<rect x="174.78" y="467.99" width="3.55" height="32.31" fill="#FDE725"/>
<rect x="180.78" y="476.43" width="3.55" height="23.87" fill="#440154"/>
<rect x="184.32" y="457.93" width="3.55" height="42.37" fill="#21908C"/>
<rect x="187.88" y="484.46" width="3.55" height="15.84" fill="#FDE725"/>
<rect x="193.88" y="495.68" width="3.55" height="4.62" fill="#440154"/>
<rect x="200.97" y="493.83" width="3.55" height="6.47" fill="#FDE725"/>
<rect x="206.97" y="475.85" width="3.55" height="24.45" fill="#440154"/>
<rect x="210.52" y="493.65" width="3.55" height="6.65" fill="#21908C"/>
<rect x="214.07" y="497.12" width="3.55" height="3.18" fill="#FDE725"/>
<rect x="223.62" y="493.07" width="3.55" height="7.23" fill="#21908C"/>
<rect x="227.18" y="487.93" width="3.55" height="12.37" fill="#FDE725"/>
<rect x="236.72" y="485.56" width="3.55" height="14.74" fill="#21908C"/>
<rect x="240.28" y="488.16" width="3.55" height="12.14" fill="#FDE725"/>
<rect x="253.38" y="471.46" width="3.55" height="28.84" fill="#FDE725"/>
<rect x="259.38" y="487.76" width="3.55" height="12.54" fill="#440154"/>
<rect x="262.93" y="495.10" width="3.55" height="5.20" fill="#21908C"/>
<rect x="266.47" y="482.27" width="3.55" height="18.03" fill="#FDE725"/>
<text x="130.15" y="470.43" text-anchor="middle" font-size="6.0" font-weight="bold" class="st" fill="#111" stroke="#111">*</text>
<text x="176.55" y="465.69" text-anchor="middle" font-size="6.0" font-weight="bold" class="st" fill="#111" stroke="#111">*</text>
<text x="186.10" y="455.63" text-anchor="middle" font-size="6.0" font-weight="bold" class="st" fill="#111" stroke="#111">*</text>
<text x="208.75" y="473.55" text-anchor="middle" font-size="6.0" font-weight="bold" class="st" fill="#111" stroke="#111">*</text>
<text x="255.15" y="469.16" text-anchor="middle" font-size="6.0" font-weight="bold" class="st" fill="#111" stroke="#111">*</text>
<text x="268.25" y="479.97" text-anchor="middle" font-size="6.0" font-weight="bold" class="st" fill="#111" stroke="#111">*</text>
<path d="M34.30 385.00V500.75" stroke="#3a3a3a" stroke-width="0.9" fill="none"/>
<path d="M33.85 500.30H272.50" stroke="#3a3a3a" stroke-width="0.9" fill="none"/>
<path d="M32.30 500.30H34.30" stroke="#3a3a3a" stroke-width="0.8"/>
<text x="30.50" y="502.85" text-anchor="end" font-size="6.8" fill="#4d4d4d" stroke="#4d4d4d">0</text>
<path d="M32.30 471.40H34.30" stroke="#3a3a3a" stroke-width="0.8"/>
<text x="30.50" y="473.95" text-anchor="end" font-size="6.8" fill="#4d4d4d" stroke="#4d4d4d">5</text>
<path d="M32.30 442.50H34.30" stroke="#3a3a3a" stroke-width="0.8"/>
<text x="30.50" y="445.05" text-anchor="end" font-size="6.8" fill="#4d4d4d" stroke="#4d4d4d">10</text>
<path d="M32.30 413.60H34.30" stroke="#3a3a3a" stroke-width="0.8"/>
<text x="30.50" y="416.15" text-anchor="end" font-size="6.8" fill="#4d4d4d" stroke="#4d4d4d">15</text>
<path d="M32.30 384.70H34.30" stroke="#3a3a3a" stroke-width="0.8"/>
<text x="30.50" y="387.25" text-anchor="end" font-size="6.8" fill="#4d4d4d" stroke="#4d4d4d">20</text>
<path d="M42.00 500.30V502.30" stroke="#3a3a3a" stroke-width="0.8"/>
<text transform="translate(44.20,507.50) rotate(-45)" text-anchor="end" font-size="6.4" class="cl" fill="#4d4d4d" stroke="#4d4d4d">PIV</text>
<path d="M55.10 500.30V502.30" stroke="#3a3a3a" stroke-width="0.8"/>
<text transform="translate(57.30,507.50) rotate(-45)" text-anchor="end" font-size="6.4" class="cl" fill="#4d4d4d" stroke="#4d4d4d">EMIV</text>
<path d="M68.20 500.30V502.30" stroke="#3a3a3a" stroke-width="0.8"/>
<text transform="translate(70.40,507.50) rotate(-45)" text-anchor="end" font-size="6.4" class="cl" fill="#4d4d4d" stroke="#4d4d4d">EIV</text>
<path d="M81.30 500.30V502.30" stroke="#3a3a3a" stroke-width="0.8"/>
<text transform="translate(83.50,507.50) rotate(-45)" text-anchor="end" font-size="6.4" class="cl" fill="#4d4d4d" stroke="#4d4d4d">TIV</text>
<path d="M94.40 500.30V502.30" stroke="#3a3a3a" stroke-width="0.8"/>
<text transform="translate(96.60,507.50) rotate(-45)" text-anchor="end" font-size="6.4" class="cl" fill="#4d4d4d" stroke="#4d4d4d">Plant basal area</text>
<path d="M107.50 500.30V502.30" stroke="#3a3a3a" stroke-width="0.8"/>
<text transform="translate(109.70,507.50) rotate(-45)" text-anchor="end" font-size="6.4" class="cl" fill="#4d4d4d" stroke="#4d4d4d">Plant density</text>
<path d="M120.60 500.30V502.30" stroke="#3a3a3a" stroke-width="0.8"/>
<text transform="translate(122.80,507.50) rotate(-45)" text-anchor="end" font-size="6.4" class="cl" fill="#4d4d4d" stroke="#4d4d4d">Plant PCoA1</text>
<path d="M133.70 500.30V502.30" stroke="#3a3a3a" stroke-width="0.8"/>
<text transform="translate(135.90,507.50) rotate(-45)" text-anchor="end" font-size="6.4" class="cl" fill="#4d4d4d" stroke="#4d4d4d">Plant PCoA2</text>
<path d="M146.80 500.30V502.30" stroke="#3a3a3a" stroke-width="0.8"/>
<text transform="translate(149.00,507.50) rotate(-45)" text-anchor="end" font-size="6.4" class="cl" fill="#4d4d4d" stroke="#4d4d4d">Plant diversity</text>
<path d="M159.90 500.30V502.30" stroke="#3a3a3a" stroke-width="0.8"/>
<text transform="translate(162.10,507.50) rotate(-45)" text-anchor="end" font-size="6.4" class="cl" fill="#4d4d4d" stroke="#4d4d4d">Soil pH</text>
<path d="M173.00 500.30V502.30" stroke="#3a3a3a" stroke-width="0.8"/>
<text transform="translate(175.20,507.50) rotate(-45)" text-anchor="end" font-size="6.4" class="cl" fill="#4d4d4d" stroke="#4d4d4d">Soil bulk density</text>
<path d="M186.10 500.30V502.30" stroke="#3a3a3a" stroke-width="0.8"/>
<text transform="translate(188.30,507.50) rotate(-45)" text-anchor="end" font-size="6.4" class="cl" fill="#4d4d4d" stroke="#4d4d4d">MWHC</text>
<path d="M199.20 500.30V502.30" stroke="#3a3a3a" stroke-width="0.8"/>
<text transform="translate(201.40,507.50) rotate(-45)" text-anchor="end" font-size="6.4" class="cl" fill="#4d4d4d" stroke="#4d4d4d">Soil N</text>
<path d="M212.30 500.30V502.30" stroke="#3a3a3a" stroke-width="0.8"/>
<text transform="translate(214.50,507.50) rotate(-45)" text-anchor="end" font-size="6.4" class="cl" fill="#4d4d4d" stroke="#4d4d4d">C/N ratio</text>
<path d="M225.40 500.30V502.30" stroke="#3a3a3a" stroke-width="0.8"/>
<text transform="translate(227.60,507.50) rotate(-45)" text-anchor="end" font-size="6.4" class="cl" fill="#4d4d4d" stroke="#4d4d4d">Soil P</text>
<path d="M238.50 500.30V502.30" stroke="#3a3a3a" stroke-width="0.8"/>
<text transform="translate(240.70,507.50) rotate(-45)" text-anchor="end" font-size="6.4" class="cl" fill="#4d4d4d" stroke="#4d4d4d">NH<tspan font-size="3.97" dy="1.3">4</tspan><tspan font-size="3.97" dy="-3.6">+</tspan><tspan dy="2.3">–N</tspan></text>
<path d="M251.60 500.30V502.30" stroke="#3a3a3a" stroke-width="0.8"/>
<text transform="translate(253.80,507.50) rotate(-45)" text-anchor="end" font-size="6.4" class="cl" fill="#4d4d4d" stroke="#4d4d4d">NO<tspan font-size="3.97" dy="1.3">3</tspan><tspan font-size="3.97" dy="-3.6">−</tspan><tspan dy="2.3">–N</tspan></text>
<path d="M264.70 500.30V502.30" stroke="#3a3a3a" stroke-width="0.8"/>
<text transform="translate(266.90,507.50) rotate(-45)" text-anchor="end" font-size="6.4" class="cl" fill="#4d4d4d" stroke="#4d4d4d">Available P</text>
<text transform="translate(19.80,442.50) rotate(-90)" text-anchor="middle" font-size="8.2" fill="#1a1a1a" stroke="#1a1a1a">Variable importance (%)</text>
<text x="147.40" y="383.60" text-anchor="middle" font-size="10.05" fill="#111" stroke="#111">Bacteria</text>
<rect x="52.00" y="391.20" width="11.8" height="11.6" fill="#440154"/>
<text x="68.60" y="399.60" font-size="6.68" fill="#1a1a1a" stroke="#1a1a1a">Chao1 richness R<tspan font-size="4.9" dy="-2.5">2</tspan><tspan dy="2.5"> = 22%</tspan></text>
<rect x="52.00" y="404.05" width="11.8" height="11.6" fill="#21908C"/>
<text x="68.60" y="412.45" font-size="6.68" fill="#1a1a1a" stroke="#1a1a1a">Shannon diversity R<tspan font-size="4.9" dy="-2.5">2</tspan><tspan dy="2.5"> = 18%</tspan></text>
<rect x="52.00" y="416.90" width="11.8" height="11.6" fill="#FDE725"/>
<text x="68.60" y="425.30" font-size="6.68" fill="#1a1a1a" stroke="#1a1a1a">Pielou evenness R<tspan font-size="4.9" dy="-2.5">2</tspan><tspan dy="2.5"> = 18%</tspan></text>
</g>
<g id="panel-f">
<text x="275.9" y="379.0" font-size="10.5" fill="#111" stroke="#111">f</text>
<rect x="307.68" y="493.25" width="3.55" height="7.05" fill="#440154"/>
<rect x="311.23" y="498.05" width="3.55" height="2.25" fill="#21908C"/>
<rect x="314.77" y="498.22" width="3.55" height="2.08" fill="#FDE725"/>
<rect x="324.33" y="469.26" width="3.55" height="31.04" fill="#21908C"/>
<rect x="327.88" y="475.16" width="3.55" height="25.14" fill="#FDE725"/>
<rect x="333.88" y="418.80" width="3.55" height="81.50" fill="#440154"/>
<rect x="346.98" y="476.26" width="3.55" height="24.04" fill="#440154"/>
<rect x="360.07" y="497.87" width="3.55" height="2.43" fill="#440154"/>
<rect x="363.62" y="495.10" width="3.55" height="5.20" fill="#21908C"/>
<rect x="373.18" y="485.21" width="3.55" height="15.09" fill="#440154"/>
<rect x="386.28" y="472.15" width="3.55" height="28.15" fill="#440154"/>
<rect x="389.83" y="422.27" width="3.55" height="78.03" fill="#21908C"/>
<rect x="393.38" y="423.83" width="3.55" height="76.47" fill="#FDE725"/>
<rect x="399.38" y="487.18" width="3.55" height="13.12" fill="#440154"/>
<rect x="402.93" y="494.69" width="3.55" height="5.61" fill="#21908C"/>
<rect x="406.47" y="492.15" width="3.55" height="8.15" fill="#FDE725"/>
<rect x="412.48" y="480.24" width="3.55" height="20.06" fill="#440154"/>
<rect x="425.57" y="495.97" width="3.55" height="4.33" fill="#440154"/>
<rect x="442.23" y="498.86" width="3.55" height="1.45" fill="#21908C"/>
<rect x="445.77" y="494.87" width="3.55" height="5.43" fill="#FDE725"/>
<rect x="464.88" y="482.84" width="3.55" height="17.46" fill="#440154"/>
<rect x="494.62" y="492.90" width="3.55" height="7.40" fill="#21908C"/>
<rect x="498.17" y="489.43" width="3.55" height="10.87" fill="#FDE725"/>
<rect x="504.18" y="499.95" width="3.55" height="0.35" fill="#440154"/>
<rect x="517.27" y="496.02" width="3.55" height="4.28" fill="#440154"/>
<rect x="530.38" y="499.14" width="3.55" height="1.16" fill="#440154"/>
<rect x="533.93" y="500.01" width="3.55" height="0.29" fill="#21908C"/>
<rect x="537.48" y="498.22" width="3.55" height="2.08" fill="#FDE725"/>
<text x="326.10" y="466.96" text-anchor="middle" font-size="6.0" font-weight="bold" class="st" fill="#111" stroke="#111">*</text>
<text x="336.17" y="416.50" text-anchor="middle" font-size="6.0" font-weight="bold" letter-spacing="1.05" class="st" fill="#111" stroke="#111">**</text>
<text x="392.12" y="419.97" text-anchor="middle" font-size="6.0" font-weight="bold" letter-spacing="1.05" class="st" fill="#111" stroke="#111">**</text>
<text x="395.67" y="421.53" text-anchor="middle" font-size="6.0" font-weight="bold" letter-spacing="1.05" class="st" fill="#111" stroke="#111">**</text>
<path d="M305.30 385.00V500.75" stroke="#3a3a3a" stroke-width="0.9" fill="none"/>
<path d="M304.85 500.30H543.50" stroke="#3a3a3a" stroke-width="0.9" fill="none"/>
<path d="M303.30 500.30H305.30" stroke="#3a3a3a" stroke-width="0.8"/>
<text x="301.50" y="502.85" text-anchor="end" font-size="6.8" fill="#4d4d4d" stroke="#4d4d4d">0</text>
<path d="M303.30 471.40H305.30" stroke="#3a3a3a" stroke-width="0.8"/>
<text x="301.50" y="473.95" text-anchor="end" font-size="6.8" fill="#4d4d4d" stroke="#4d4d4d">5</text>
<path d="M303.30 442.50H305.30" stroke="#3a3a3a" stroke-width="0.8"/>
<text x="301.50" y="445.05" text-anchor="end" font-size="6.8" fill="#4d4d4d" stroke="#4d4d4d">10</text>
<path d="M303.30 413.60H305.30" stroke="#3a3a3a" stroke-width="0.8"/>
<text x="301.50" y="416.15" text-anchor="end" font-size="6.8" fill="#4d4d4d" stroke="#4d4d4d">15</text>
<path d="M303.30 384.70H305.30" stroke="#3a3a3a" stroke-width="0.8"/>
<text x="301.50" y="387.25" text-anchor="end" font-size="6.8" fill="#4d4d4d" stroke="#4d4d4d">20</text>
<path d="M313.00 500.30V502.30" stroke="#3a3a3a" stroke-width="0.8"/>
<text transform="translate(315.20,507.50) rotate(-45)" text-anchor="end" font-size="6.4" class="cl" fill="#4d4d4d" stroke="#4d4d4d">PIV</text>
<path d="M326.10 500.30V502.30" stroke="#3a3a3a" stroke-width="0.8"/>
<text transform="translate(328.30,507.50) rotate(-45)" text-anchor="end" font-size="6.4" class="cl" fill="#4d4d4d" stroke="#4d4d4d">EMIV</text>
<path d="M339.20 500.30V502.30" stroke="#3a3a3a" stroke-width="0.8"/>
<text transform="translate(341.40,507.50) rotate(-45)" text-anchor="end" font-size="6.4" class="cl" fill="#4d4d4d" stroke="#4d4d4d">EIV</text>
<path d="M352.30 500.30V502.30" stroke="#3a3a3a" stroke-width="0.8"/>
<text transform="translate(354.50,507.50) rotate(-45)" text-anchor="end" font-size="6.4" class="cl" fill="#4d4d4d" stroke="#4d4d4d">TIV</text>
<path d="M365.40 500.30V502.30" stroke="#3a3a3a" stroke-width="0.8"/>
<text transform="translate(367.60,507.50) rotate(-45)" text-anchor="end" font-size="6.4" class="cl" fill="#4d4d4d" stroke="#4d4d4d">Plant basal area</text>
<path d="M378.50 500.30V502.30" stroke="#3a3a3a" stroke-width="0.8"/>
<text transform="translate(380.70,507.50) rotate(-45)" text-anchor="end" font-size="6.4" class="cl" fill="#4d4d4d" stroke="#4d4d4d">Plant density</text>
<path d="M391.60 500.30V502.30" stroke="#3a3a3a" stroke-width="0.8"/>
<text transform="translate(393.80,507.50) rotate(-45)" text-anchor="end" font-size="6.4" class="cl" fill="#4d4d4d" stroke="#4d4d4d">Plant PCoA1</text>
<path d="M404.70 500.30V502.30" stroke="#3a3a3a" stroke-width="0.8"/>
<text transform="translate(406.90,507.50) rotate(-45)" text-anchor="end" font-size="6.4" class="cl" fill="#4d4d4d" stroke="#4d4d4d">Plant PCoA2</text>
<path d="M417.80 500.30V502.30" stroke="#3a3a3a" stroke-width="0.8"/>
<text transform="translate(420.00,507.50) rotate(-45)" text-anchor="end" font-size="6.4" class="cl" fill="#4d4d4d" stroke="#4d4d4d">Plant diversity</text>
<path d="M430.90 500.30V502.30" stroke="#3a3a3a" stroke-width="0.8"/>
<text transform="translate(433.10,507.50) rotate(-45)" text-anchor="end" font-size="6.4" class="cl" fill="#4d4d4d" stroke="#4d4d4d">Soil pH</text>
<path d="M444.00 500.30V502.30" stroke="#3a3a3a" stroke-width="0.8"/>
<text transform="translate(446.20,507.50) rotate(-45)" text-anchor="end" font-size="6.4" class="cl" fill="#4d4d4d" stroke="#4d4d4d">Soil bulk density</text>
<path d="M457.10 500.30V502.30" stroke="#3a3a3a" stroke-width="0.8"/>
<text transform="translate(459.30,507.50) rotate(-45)" text-anchor="end" font-size="6.4" class="cl" fill="#4d4d4d" stroke="#4d4d4d">MWHC</text>
<path d="M470.20 500.30V502.30" stroke="#3a3a3a" stroke-width="0.8"/>
<text transform="translate(472.40,507.50) rotate(-45)" text-anchor="end" font-size="6.4" class="cl" fill="#4d4d4d" stroke="#4d4d4d">Soil N</text>
<path d="M483.30 500.30V502.30" stroke="#3a3a3a" stroke-width="0.8"/>
<text transform="translate(485.50,507.50) rotate(-45)" text-anchor="end" font-size="6.4" class="cl" fill="#4d4d4d" stroke="#4d4d4d">C/N ratio</text>
<path d="M496.40 500.30V502.30" stroke="#3a3a3a" stroke-width="0.8"/>
<text transform="translate(498.60,507.50) rotate(-45)" text-anchor="end" font-size="6.4" class="cl" fill="#4d4d4d" stroke="#4d4d4d">Soil P</text>
<path d="M509.50 500.30V502.30" stroke="#3a3a3a" stroke-width="0.8"/>
<text transform="translate(511.70,507.50) rotate(-45)" text-anchor="end" font-size="6.4" class="cl" fill="#4d4d4d" stroke="#4d4d4d">NH<tspan font-size="3.97" dy="1.3">4</tspan><tspan font-size="3.97" dy="-3.6">+</tspan><tspan dy="2.3">–N</tspan></text>
<path d="M522.60 500.30V502.30" stroke="#3a3a3a" stroke-width="0.8"/>
<text transform="translate(524.80,507.50) rotate(-45)" text-anchor="end" font-size="6.4" class="cl" fill="#4d4d4d" stroke="#4d4d4d">NO<tspan font-size="3.97" dy="1.3">3</tspan><tspan font-size="3.97" dy="-3.6">−</tspan><tspan dy="2.3">–N</tspan></text>
<path d="M535.70 500.30V502.30" stroke="#3a3a3a" stroke-width="0.8"/>
<text transform="translate(537.90,507.50) rotate(-45)" text-anchor="end" font-size="6.4" class="cl" fill="#4d4d4d" stroke="#4d4d4d">Available P</text>
<text transform="translate(290.80,442.50) rotate(-90)" text-anchor="middle" font-size="8.2" fill="#1a1a1a" stroke="#1a1a1a">Variable importance (%)</text>
<text x="430.40" y="383.60" text-anchor="middle" font-size="10.05" fill="#111" stroke="#111">Fungi</text>
<rect x="437.70" y="391.20" width="11.8" height="11.6" fill="#440154"/>
<text x="454.20" y="399.60" font-size="6.68" fill="#1a1a1a" stroke="#1a1a1a">Chao1 richness R<tspan font-size="4.9" dy="-2.5">2</tspan><tspan dy="2.5"> = 24%</tspan></text>
<rect x="437.70" y="404.05" width="11.8" height="11.6" fill="#21908C"/>
<text x="454.20" y="412.45" font-size="6.68" fill="#1a1a1a" stroke="#1a1a1a">Shannon diversity R<tspan font-size="4.9" dy="-2.5">2</tspan><tspan dy="2.5"> = 19%</tspan></text>
<rect x="437.70" y="416.90" width="11.8" height="11.6" fill="#FDE725"/>
<text x="454.20" y="425.30" font-size="6.68" fill="#1a1a1a" stroke="#1a1a1a">Pielou evenness R<tspan font-size="4.9" dy="-2.5">2</tspan><tspan dy="2.5"> = 14%</tspan></text>
</g>
</svg>
</body></html>
